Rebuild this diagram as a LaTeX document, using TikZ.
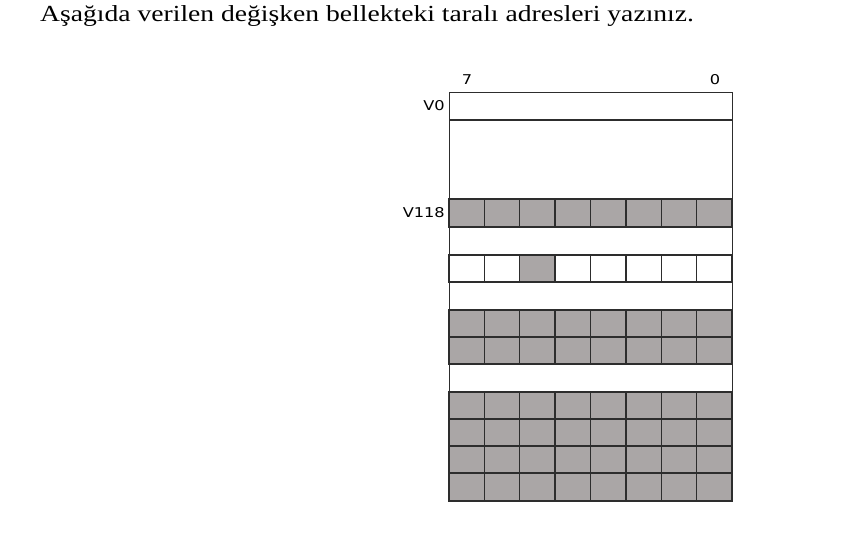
\documentclass[tikz,border=0pt]{standalone}
\usepackage{fontspec}
\setmainfont{Liberation Serif}
\newfontfamily\lblfont{DejaVu Sans}
\definecolor{cellgrey}{RGB}{170,166,166}
\definecolor{gridline}{RGB}{45,45,45}
\begin{document}
\begin{tikzpicture}[x=1pt,y=-1pt,
  frame/.style={draw=gridline,line width=1.3pt},
  cellline/.style={draw=gridline,line width=1.3pt},
  shaded/.style={fill=cellgrey,draw=gridline,line width=1.3pt},
  plain/.style={fill=white,draw=gridline,line width=1.3pt},
  lbl/.style={font=\lblfont\fontsize{13.5}{15}\selectfont,inner sep=0pt,xscale=1.2},
  title/.style={font=\fontsize{23}{26}\selectfont,inner sep=0pt,anchor=base west,xscale=1.2}]
\useasboundingbox (0,0) rectangle (851,543);
\node[title] (ttl) at (40,22) {Aşağıda verilen değişken bellekteki taralı adresleri yazınız.};
\def\cw{35.375}
% full shaded rows
\foreach \top/\bot in {199/227,310/337,337/364,392/419,419/446,446/473,473/501}{
  \foreach \i in {0,...,7}{
    \path[shaded] ({449+\i*\cw},\top) rectangle ({449+(\i+1)*\cw},\bot);
  }
}
% row with one shaded cell
\foreach \i in {0,...,7}{
  \ifnum\i=2
    \path[shaded] ({449+\i*\cw},255) rectangle ({449+(\i+1)*\cw},282);
  \else
    \path[plain] ({449+\i*\cw},255) rectangle ({449+(\i+1)*\cw},282);
  \fi
}
% V0 separator
\draw[cellline] (449,120) -- (732,120);
% outer frame
\node[frame,inner sep=0pt,minimum width=283pt,minimum height=409pt,anchor=north west] (mem) at (449,92) {};
\node[lbl] (b7) at (467,80) {7};
\node[lbl] (b0) at (715,80) {0};
\node[lbl,anchor=east] (v0) at (445,106) {V0};
\node[lbl,anchor=east] (v118) at (445,213) {V118};
\end{tikzpicture}
\end{document}
